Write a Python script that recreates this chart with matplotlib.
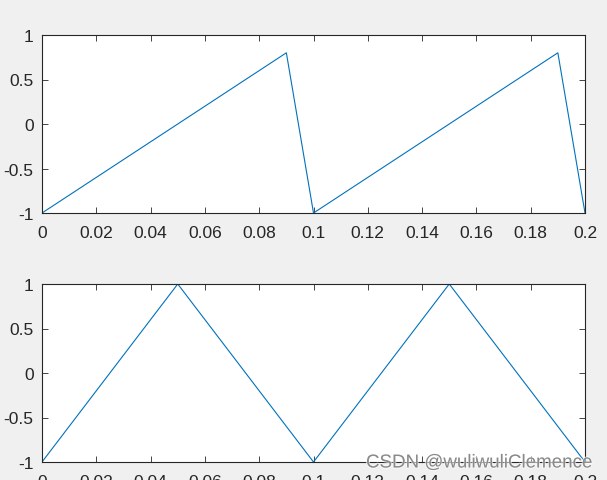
import matplotlib.pyplot as plt
import matplotlib.patheffects as pe

# Datos
t_saw = [0, 0.09, 0.10, 0.19, 0.20]
y_saw = [-1, 0.8, -1, 0.8, -1]
t_tri = [0, 0.05, 0.10, 0.15, 0.20]
y_tri = [-1, 1, -1, 1, -1]
xticks = [0, 0.02, 0.04, 0.06, 0.08, 0.1, 0.12, 0.14, 0.16, 0.18, 0.2]
xlabels = ["0", "0.02", "0.04", "0.06", "0.08", "0.1", "0.12", "0.14", "0.16", "0.18", "0.2"]
yticks = [-1, -0.5, 0, 0.5, 1]
ylabels = ["-1", "-0.5", "0", "0.5", "1"]

plt.rcParams["font.family"] = ["Liberation Sans", "DejaVu Sans"]

W, H = 607, 481
fig = plt.figure(figsize=(W / 100, H / 100), dpi=100, facecolor="#f0f0f0")

def make_axes(top, bottom):
    left, right = 42, 585
    return fig.add_axes([left / W, 1 - bottom / H, (right - left) / W, (bottom - top) / H])

ax1 = make_axes(36, 214)
ax2 = make_axes(285, 463)

for ax, t, y in [(ax1, t_saw, y_saw), (ax2, t_tri, y_tri)]:
    ax.plot(t, y, color="#0072BD", linewidth=0.8)
    ax.set_xlim(0, 0.2)
    ax.set_ylim(-1, 1)
    ax.set_xticks(xticks, xlabels)
    ax.set_yticks(yticks, ylabels)
    ax.tick_params(direction="in", top=True, right=True, length=4, width=0.6,
                   color="#262626", labelsize=12.5, labelcolor="#262626")
    ax.tick_params(axis="x", pad=9)
    ax.tick_params(axis="y", pad=6)
    for s in ax.spines.values():
        s.set_color("#262626")
        s.set_linewidth(0.8)

# marca de agua
fig.text(479 / W, 1 - 464 / H, "CSDN @wuliwuliClemence", fontsize=13.5,
         color="#8a8a8a", ha="center", va="center",
         path_effects=[pe.withStroke(linewidth=1.5, foreground="white", alpha=0.6)])

fig.savefig("out.png", dpi=100, facecolor=fig.get_facecolor())
